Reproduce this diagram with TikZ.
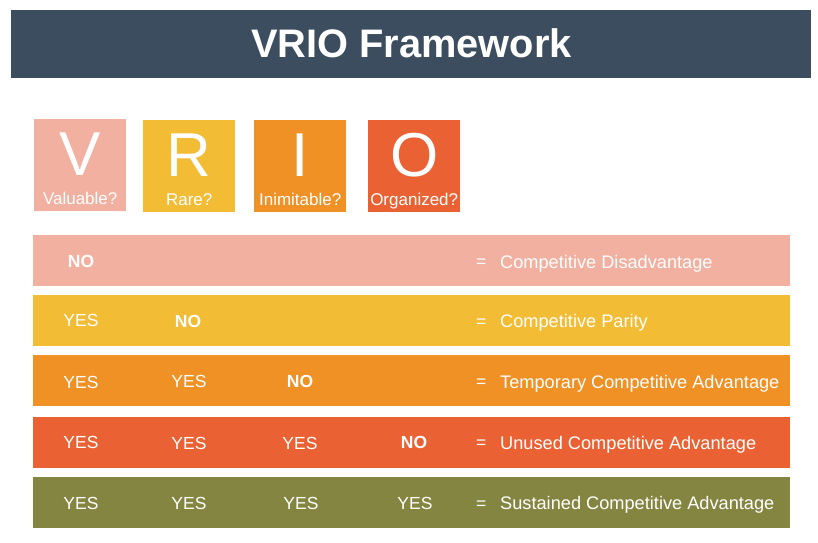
\documentclass[tikz,border=0pt]{standalone}
\usepackage{fontspec}
\setmainfont{Liberation Sans}
\definecolor{hdr}{RGB}{59,77,95}
\definecolor{cv}{RGB}{242,176,160}
\definecolor{cr}{RGB}{242,188,52}
\definecolor{ci}{RGB}{240,145,38}
\definecolor{co}{RGB}{234,98,51}
\definecolor{cs}{RGB}{133,133,66}
\tikzset{
  letterbox/.style={minimum width=92pt, minimum height=92pt, inner sep=0pt, anchor=north west, draw=none},
  bigletter/.style={text=white, inner sep=0pt, font=\fontsize{62}{62}\selectfont, text height=44.4pt, text depth=0pt},
  qlabel/.style={text=white, inner sep=0pt, font=\fontsize{17}{17}\selectfont, text height=12.3pt, text depth=0pt},
  rowbar/.style={minimum width=757pt, minimum height=51pt, inner sep=0pt, anchor=north west, draw=none},
  yes/.style={text=white, inner sep=0pt, font=\fontsize{17.5}{17.5}\selectfont, text height=12.5pt, text depth=0pt},
  no/.style={yes, font=\fontsize{17.5}{17.5}\selectfont\bfseries},
  eqsign/.style={yes, anchor=west},
  result/.style={yes, anchor=west, font=\fontsize{18.2}{18.2}\selectfont, text height=13pt},
}
\begin{document}
\begin{tikzpicture}[x=1pt,y=-1pt]
\useasboundingbox (0,0) rectangle (818,542);
\fill[white] (0,0) rectangle (818,542);
% header
\node[fill=hdr, minimum width=800pt, minimum height=68pt, inner sep=0pt, anchor=north west] (hdr) at (11,10) {};
\node[text=white, inner sep=0pt, font=\fontsize{39.8}{39.8}\selectfont\bfseries, text height=28.5pt, text depth=0pt] (title) at (411.5,43.5) {VRIO Framework};
% letter boxes
\node[letterbox, fill=cv] (bv) at (34,119) {};
\node[letterbox, fill=cr] (br) at (143,120) {};
\node[letterbox, fill=ci] (bi) at (254,120) {};
\node[letterbox, fill=co] (bo) at (368,120) {};
\foreach \b/\l/\q in {bv/V/Valuable?, br/R/Rare?, bi/I/Inimitable?, bo/O/Organized?}{
  \node[bigletter] (\b-l) at ([yshift=12pt]\b.center) {\l};
  \node[qlabel] (\b-q) at ([yshift=-33pt]\b.center) {\q};
}
% rows
\node[rowbar, fill=cv] (r1) at (33,235) {};
\node[rowbar, fill=cr] (r2) at (33,295) {};
\node[rowbar, fill=ci] (r3) at (33,355) {};
\node[rowbar, fill=co] (r4) at (33,417) {};
\node[rowbar, fill=cs] (r5) at (33,477) {};
% row 1
\node[no] (r1c1) at (81,261.5) {NO};
% row 2
\node[yes] (r2c1) at (81,320.5) {YES};
\node[no] (r2c2) at (188,321) {NO};
% row 3
\node[yes] (r3c1) at (81,382) {YES};
\node[yes] (r3c2) at (189,381) {YES};
\node[no] (r3c3) at (300,381) {NO};
% row 4
\node[yes] (r4c1) at (81,442.5) {YES};
\node[yes] (r4c2) at (189,443) {YES};
\node[yes] (r4c3) at (300,443) {YES};
\node[no] (r4c4) at (414,442.5) {NO};
% row 5
\node[yes] (r5c1) at (81,503) {YES};
\node[yes] (r5c2) at (189,503) {YES};
\node[yes] (r5c3) at (301,503) {YES};
\node[yes] (r5c4) at (415,503) {YES};
% results
\foreach \r/\y/\t in {1/261.5/Competitive Disadvantage, 2/321/Competitive Parity, 3/381.5/Temporary Competitive Advantage, 4/442.5/Unused Competitive Advantage, 5/503/Sustained Competitive Advantage}{
  \node[eqsign] (eq\r) at (476,\y) {=};
  \node[result] (res\r) at (500,\y) {\t};
}
\end{tikzpicture}
\end{document}
